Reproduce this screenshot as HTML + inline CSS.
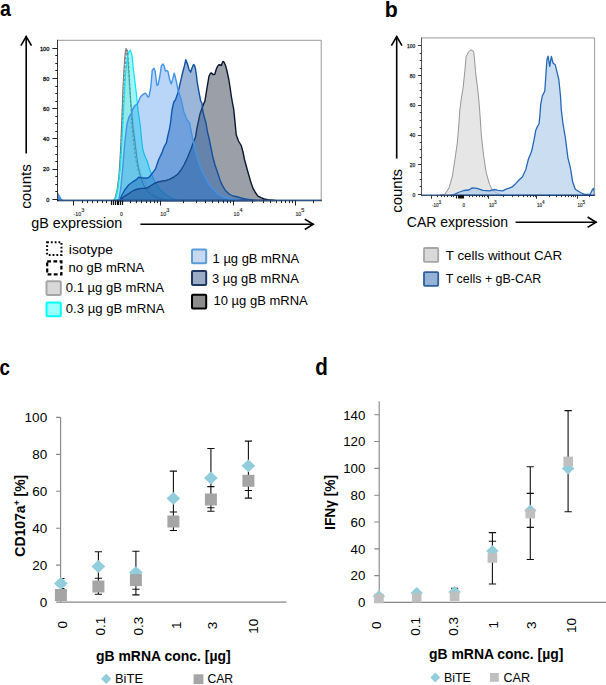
<!DOCTYPE html><html><head><meta charset="utf-8"><style>html,body{margin:0;padding:0;background:#fff;overflow:hidden}svg{display:block}</style></head><body>
<svg width="606" height="685" viewBox="0 0 606 685" font-family='"Liberation Sans", sans-serif'>
<rect width="606" height="685" fill="#fff"/>
<text x="0.0" y="16.2" font-size="22.5" font-weight="bold" textLength="10.9" lengthAdjust="spacingAndGlyphs" >a</text>
<text x="384.8" y="17.3" font-size="22.5" font-weight="bold" textLength="13.0" lengthAdjust="spacingAndGlyphs" >b</text>
<text x="-0.6" y="374.9" font-size="22.5" font-weight="bold" textLength="10.4" lengthAdjust="spacingAndGlyphs" >c</text>
<text x="315.2" y="374.6" font-size="23" font-weight="bold" textLength="12.6" lengthAdjust="spacingAndGlyphs" >d</text>
<path d="M26.2,153.6 L26.2,36" stroke="#000" stroke-width="1.6" fill="none"/>
<path d="M20.9,45.6 L26.2,36.6 L31.5,45.6" stroke="#000" stroke-width="1.6" fill="none"/>
<path d="M140.4,224.3 L313.8,224.3" stroke="#000" stroke-width="1.6" fill="none"/>
<path d="M304.8,219.10000000000002 L313.2,224.3 L304.8,229.5" stroke="#000" stroke-width="1.6" fill="none"/>
<path d="M396.7,158.6 L396.7,36" stroke="#000" stroke-width="1.6" fill="none"/>
<path d="M391.4,45.6 L396.7,36.6 L402.0,45.6" stroke="#000" stroke-width="1.6" fill="none"/>
<path d="M515.6,222.2 L596.6,222.2" stroke="#000" stroke-width="1.6" fill="none"/>
<path d="M587.6,217.0 L596.0,222.2 L587.6,227.39999999999998" stroke="#000" stroke-width="1.6" fill="none"/>
<text x="0" y="0" font-size="15.5" textLength="44.6" lengthAdjust="spacingAndGlyphs" transform="translate(31.3 208.7) rotate(-90)">counts</text>
<text x="0" y="0" font-size="15.5" textLength="43.8" lengthAdjust="spacingAndGlyphs" transform="translate(402.0 212.8) rotate(-90)">counts</text>
<text x="31.2" y="228.4" font-size="15" textLength="91.0" lengthAdjust="spacingAndGlyphs" >gB expression</text>
<text x="406.8" y="226.5" font-size="15" textLength="101.2" lengthAdjust="spacingAndGlyphs" >CAR expression</text>
<g stroke-linejoin="round">
<polygon points="113.0,200.5 115.0,198.0 117.0,190.0 119.0,175.0 120.5,150.0 121.5,125.0 122.3,105.0 122.8,90.0 123.6,75.0 124.4,62.0 125.3,52.0 126.1,48.4 127.0,50.0 128.0,60.0 129.0,75.0 130.0,90.0 131.5,110.0 133.0,128.0 134.7,140.0 136.5,155.0 138.5,168.0 141.0,178.0 144.0,186.0 148.0,192.0 153.0,196.0 160.0,198.5 168.0,200.0 175.0,200.5" fill="#c0c0c0" fill-opacity="0.3" stroke="#707070" stroke-width="0.9"/>
<polyline points="114.0,200.5 116.0,197.0 118.0,188.0 120.0,170.0 121.5,145.0 122.5,120.0 123.5,100.0 124.5,80.0 125.5,62.0 126.3,52.0 127.0,50.0 127.8,54.0 128.6,62.0 129.3,72.0 129.8,85.0 130.4,100.0 131.2,115.0 132.2,128.0 133.5,142.0 135.5,158.0 138.5,172.0 143.0,184.0 149.0,192.0 157.0,197.5 168.0,200.5" fill="none" stroke="#35505a" stroke-width="0.9" stroke-dasharray="2.5,1.8" stroke-opacity="0.7"/>
<polyline points="113.0,200.5 115.0,198.0 117.0,190.0 119.0,175.0 120.5,150.0 121.7,125.0 122.6,105.0 123.2,90.0 124.0,75.0 124.8,60.0 125.5,50.0 126.0,48.6 126.8,52.0 127.8,65.0 129.0,85.0 130.5,100.0 132.2,113.3 134.7,134.8 136.5,152.0 138.0,164.5 142.9,179.3 149.5,189.2 157.8,197.5 165.0,200.5" fill="none" stroke="#666" stroke-width="0.8" stroke-dasharray="0.8,0.9" stroke-opacity="0.7"/>
<polygon points="114.0,200.5 116.0,197.0 118.0,188.0 120.0,170.0 121.5,150.0 122.6,130.0 123.6,110.0 124.6,90.0 125.7,72.8 127.2,58.2 128.8,52.0 130.4,50.2 131.9,54.6 133.4,69.2 135.2,83.8 136.5,95.0 138.0,110.0 139.2,118.0 140.4,126.5 141.6,140.0 142.9,150.0 145.0,156.5 147.0,160.5 150.0,170.5 154.0,180.0 160.0,189.7 166.0,195.0 172.0,198.5 180.0,200.5" fill="#00e8e8" fill-opacity="0.38" stroke="#12e0f4" stroke-width="1.2"/>
<polygon points="118.0,200.5 121.5,199.0 124.0,196.5 128.0,194.2 131.0,192.0 134.7,190.0 138.0,189.0 141.3,188.4 144.5,188.3 147.9,187.6 151.0,185.5 154.5,183.4 158.0,182.0 162.7,181.0 166.0,180.5 169.3,179.3 173.0,177.5 177.6,174.4 181.0,170.0 184.2,164.5 187.5,157.5 190.8,149.6 193.5,142.0 195.7,136.4 196.6,130.0 198.3,122.0 199.9,114.2 202.4,107.0 204.9,101.0 207.0,88.0 209.0,76.2 210.3,73.5 211.5,72.9 213.0,74.5 214.8,74.2 216.0,70.0 217.2,67.1 218.5,65.0 219.7,64.7 221.4,65.5 222.2,63.0 223.0,61.4 224.0,62.0 225.5,65.5 227.0,71.0 228.8,79.5 230.0,87.0 231.3,96.0 232.5,103.0 233.7,109.2 235.0,122.0 236.2,134.8 238.5,141.0 241.2,145.5 243.0,152.0 244.5,159.5 246.5,167.0 248.6,174.4 250.5,181.0 252.7,187.6 255.0,192.0 257.7,195.8 261.0,197.7 264.3,199.0 268.0,199.8 275.0,200.5" fill="#353f51" fill-opacity="0.5" stroke="#0a1630" stroke-width="1.4"/>
<polygon points="116.0,200.5 119.9,199.6 122.0,195.0 124.9,189.7 128.8,184.8 132.8,181.8 136.7,179.3 138.7,177.3 141.7,177.8 146.6,178.3 149.6,176.8 152.6,172.9 155.5,168.9 158.5,160.0 161.9,152.9 164.0,147.0 166.4,142.8 168.0,135.0 169.3,129.8 170.5,123.0 172.0,110.0 173.8,102.0 175.4,100.0 177.9,93.0 180.4,82.2 182.9,71.5 184.5,65.7 185.8,59.7 187.5,64.0 189.0,69.5 190.6,72.2 192.0,68.0 193.5,64.4 194.5,65.5 195.5,68.9 196.4,75.0 197.2,82.1 198.8,91.2 200.7,101.0 201.9,103.2 203.0,112.0 204.5,118.0 206.0,123.0 207.5,132.0 209.3,139.5 211.0,148.0 212.6,156.0 215.0,165.0 217.6,172.5 220.0,180.0 222.5,185.7 225.5,190.5 229.1,194.0 233.0,196.0 239.0,197.3 245.0,199.0 255.0,200.5" fill="#2d67b0" fill-opacity="0.48" stroke="#11509f" stroke-width="1.4"/>
<polygon points="117.0,200.5 119.0,199.0 120.8,188.0 122.3,172.7 123.5,158.0 124.8,143.0 126.0,132.0 127.2,123.2 129.0,117.0 131.4,113.3 133.0,108.5 135.0,105.5 137.5,103.7 140.4,97.0 142.8,94.6 145.3,93.0 146.6,94.6 147.8,97.1 149.0,96.3 150.7,88.0 152.3,69.9 154.0,68.2 155.2,71.5 156.9,85.5 158.1,84.7 159.8,76.5 161.4,65.7 163.0,64.1 164.3,66.6 165.5,71.1 166.8,70.7 168.0,71.5 169.7,79.8 171.3,83.9 173.0,78.1 174.2,73.2 175.4,77.3 176.7,83.0 177.9,89.7 179.6,94.6 181.2,99.6 183.7,111.5 187.0,119.7 189.5,123.0 192.8,139.5 196.9,156.0 201.0,169.2 206.0,179.0 210.0,186.0 214.3,190.0 218.0,194.0 222.5,196.5 230.0,199.0 240.0,200.5" fill="#026de6" fill-opacity="0.28" stroke="#4193ea" stroke-width="1.4"/>
<polygon points="57.5,200.5 57.5,192.5 59.0,195.0 61.0,198.5 63.0,200.5" fill="#4a90e0" stroke="#3b82d6" stroke-width="0.8"/>
</g>
<path d="M57.5,40.3 L321.2,40.3 L321.2,200.5" fill="none" stroke="#9a9a9a" stroke-width="1"/>
<path d="M57.5,39.8 L57.5,200.5" stroke="#333" stroke-width="1"/>
<path d="M57.0,200.5 L321.7,200.5" stroke="#1a2233" stroke-width="1.4"/>
<path d="M58.5,200.2 L321.2,200.2" stroke="#3d7fd0" stroke-width="0.8"/>
<path d="M52.4,199.5 L57.5,199.5 M55.3,191.5 L57.5,191.5 M55.3,184.5 L57.5,184.5 M55.3,176.5 L57.5,176.5 M52.4,169.5 L57.5,169.5 M55.3,161.5 L57.5,161.5 M55.3,154.5 L57.5,154.5 M55.3,146.5 L57.5,146.5 M52.4,138.5 L57.5,138.5 M55.3,131.5 L57.5,131.5 M55.3,123.5 L57.5,123.5 M55.3,116.5 L57.5,116.5 M52.4,108.5 L57.5,108.5 M55.3,101.5 L57.5,101.5 M55.3,93.5 L57.5,93.5 M55.3,86.5 L57.5,86.5 M52.4,78.5 L57.5,78.5 M55.3,70.5 L57.5,70.5 M55.3,63.5 L57.5,63.5 M55.3,55.5 L57.5,55.5 M52.4,48.5 L57.5,48.5" stroke="#222" stroke-width="1"/>
<g font-size="6.2" fill="#111" text-anchor="end" stroke="#111" stroke-width="0.3">
<text x="49.3" y="201.6" textLength="3.1" lengthAdjust="spacingAndGlyphs">0</text>
<text x="49.3" y="171.4" textLength="6.2" lengthAdjust="spacingAndGlyphs">20</text>
<text x="49.3" y="141.2" textLength="6.2" lengthAdjust="spacingAndGlyphs">40</text>
<text x="49.3" y="111.0" textLength="6.2" lengthAdjust="spacingAndGlyphs">60</text>
<text x="49.3" y="80.8" textLength="6.2" lengthAdjust="spacingAndGlyphs">80</text>
<text x="49.3" y="50.6" textLength="9.4" lengthAdjust="spacingAndGlyphs">100</text>
</g>
<path d="M73.5,200.5 L73.5,205.5 M160.5,200.5 L160.5,205.5 M233.5,200.5 L233.5,205.5 M295.5,200.5 L295.5,205.5 M82.5,200.5 L82.5,203.1 M87.5,200.5 L87.5,203.1 M92.5,200.5 L92.5,203.1 M97.5,200.5 L97.5,203.1 M102.5,200.5 L102.5,203.1 M106.5,200.5 L106.5,203.1 M130.5,200.5 L130.5,203.1 M136.5,200.5 L136.5,203.1 M141.5,200.5 L141.5,203.1 M146.5,200.5 L146.5,203.1 M150.5,200.5 L150.5,203.1 M154.5,200.5 L154.5,203.1 M157.5,200.5 L157.5,203.1 M183.5,200.5 L183.5,203.1 M196.5,200.5 L196.5,203.1 M205.5,200.5 L205.5,203.1 M212.5,200.5 L212.5,203.1 M218.5,200.5 L218.5,203.1 M223.5,200.5 L223.5,203.1 M227.5,200.5 L227.5,203.1 M230.5,200.5 L230.5,203.1 M252.5,200.5 L252.5,203.1 M263.5,200.5 L263.5,203.1 M270.5,200.5 L270.5,203.1 M276.5,200.5 L276.5,203.1 M281.5,200.5 L281.5,203.1 M285.5,200.5 L285.5,203.1 M289.5,200.5 L289.5,203.1 M292.5,200.5 L292.5,203.1 M313.5,200.5 L313.5,203.1" stroke="#222" stroke-width="1.0"/>
<path d="M111.5,200.5 L111.5,205.0 M113.5,200.5 L113.5,205.0 M115.5,200.5 L115.5,205.0 M117.5,200.5 L117.5,205.0 M118.5,200.5 L118.5,205.0 M120.5,200.5 L120.5,205.0 M122.5,200.5 L122.5,205.0" stroke="#111" stroke-width="1.2"/>
<text x="73.6" y="216.1" font-size="5.3" fill="#222" stroke="#222" stroke-width="0.12">-10<tspan font-size="5.5" dy="-3.9">3</tspan></text>
<text x="119.9" y="216.1" font-size="5.3" fill="#222" stroke="#222" stroke-width="0.12">0</text>
<text x="160.3" y="216.1" font-size="5.3" fill="#222" stroke="#222" stroke-width="0.12">10<tspan font-size="5.5" dy="-3.9">3</tspan></text>
<text x="233.6" y="216.1" font-size="5.3" fill="#222" stroke="#222" stroke-width="0.12">10<tspan font-size="5.5" dy="-3.9">4</tspan></text>
<text x="295.4" y="216.1" font-size="5.3" fill="#222" stroke="#222" stroke-width="0.12">10<tspan font-size="5.5" dy="-3.9">5</tspan></text>
<rect x="47.1" y="242.2" width="14.4" height="12.7" rx="0" fill="none" stroke="#000" stroke-width="2.0" stroke-dasharray="1.8,2.0"/>
<rect x="47.2" y="261.4" width="14.2" height="13.0" rx="0" fill="none" stroke="#000" stroke-width="2.2" stroke-dasharray="3.8,2.4"/>
<rect x="46.5" y="281.2" width="14.3" height="13.7" rx="1.0" fill="#d9d9d9" stroke="#a6a6a6" stroke-width="2.0"/>
<rect x="46.5" y="302.6" width="14.3" height="13.6" rx="1.0" fill="#99ffff" stroke="#00ffff" stroke-width="2.0"/>
<rect x="192.0" y="249.5" width="14.2" height="13.8" rx="1.0" fill="#c6d9f1" stroke="#5b9bd5" stroke-width="2.0"/>
<rect x="192.0" y="271.0" width="14.2" height="14.0" rx="1.0" fill="#9badc5" stroke="#1f3864" stroke-width="2.0"/>
<rect x="192.0" y="294.8" width="14.2" height="13.6" rx="1.0" fill="#8c8c8c" stroke="#000" stroke-width="2.0"/>
<text x="68.8" y="253.6" font-size="13" textLength="44.2" lengthAdjust="spacingAndGlyphs" >isotype</text>
<text x="68.5" y="272.3" font-size="13" textLength="75.8" lengthAdjust="spacingAndGlyphs" >no gB mRNA</text>
<text x="65.8" y="292.3" font-size="13" textLength="98.2" lengthAdjust="spacingAndGlyphs" >0.1 µg gB mRNA</text>
<text x="65.8" y="313.1" font-size="13" textLength="98.6" lengthAdjust="spacingAndGlyphs" >0.3 µg gB mRNA</text>
<text x="212.6" y="263.0" font-size="13" textLength="86.6" lengthAdjust="spacingAndGlyphs" >1 µg gB mRNA</text>
<text x="212.0" y="282.6" font-size="13" textLength="86.8" lengthAdjust="spacingAndGlyphs" >3 µg gB mRNA</text>
<text x="213.5" y="305.3" font-size="13" textLength="94.2" lengthAdjust="spacingAndGlyphs" >10 µg gB mRNA</text>
<g stroke-linejoin="round">
<polygon points="440.0,195.3 445.0,194.2 449.1,187.6 452.4,176.0 454.9,159.5 457.3,143.0 458.8,125.0 459.8,110.0 461.1,100.0 463.1,87.8 464.8,71.3 466.1,56.4 467.2,54.8 468.5,52.0 470.0,50.3 471.4,50.1 472.8,50.5 473.8,52.3 474.6,60.0 475.5,71.3 476.5,80.0 477.6,87.8 478.8,100.0 479.6,109.2 481.3,134.8 483.7,156.2 486.2,172.7 489.5,184.3 492.8,190.9 499.4,194.2 506.0,195.3" fill="#e6e6e6" stroke="#8a8a8a" stroke-width="0.9"/>
<polygon points="450.0,195.3 453.2,195.0 458.2,192.5 463.9,190.5 468.9,190.0 472.2,187.9 477.1,188.4 482.9,190.4 489.5,190.9 494.5,189.5 497.8,190.4 502.7,190.9 506.0,189.2 511.8,187.2 515.9,183.4 519.0,180.0 522.5,176.8 525.8,169.4 528.3,159.5 531.6,151.3 534.1,139.7 535.7,130.6 537.4,126.5 539.0,124.0 539.8,116.6 540.7,104.3 542.3,96.0 544.8,91.0 545.6,79.5 546.9,59.7 548.1,56.1 549.7,66.3 551.4,56.4 553.0,63.0 555.2,64.7 557.2,72.9 558.8,79.5 560.5,96.0 561.3,110.0 562.9,123.2 565.4,138.0 567.9,157.9 570.4,167.8 572.8,182.6 575.3,189.2 580.3,192.5 585.2,194.5 590.2,194.2 592.6,189.2 593.8,188.4 594.6,195.3" fill="#a9c6e8" fill-opacity="0.6" stroke="#2468b8" stroke-width="1.3"/>
</g>
<path d="M421.5,37.9 L594.6,37.9 L594.6,195.3" fill="none" stroke="#9a9a9a" stroke-width="1"/>
<path d="M421.5,37.4 L421.5,195.3" stroke="#444" stroke-width="0.9"/>
<path d="M421.0,195.3 L594.6,195.3" stroke="#223" stroke-width="1"/>
<path d="M422.5,195.0 L593.6,195.0" stroke="#2468b8" stroke-width="0.7"/>
<path d="M417.9,194.5 L421.5,194.5 M419.6,186.5 L421.5,186.5 M419.6,179.5 L421.5,179.5 M419.6,172.5 L421.5,172.5 M417.9,164.5 L421.5,164.5 M419.6,157.5 L421.5,157.5 M419.6,149.5 L421.5,149.5 M419.6,142.5 L421.5,142.5 M417.9,135.5 L421.5,135.5 M419.6,127.5 L421.5,127.5 M419.6,120.5 L421.5,120.5 M419.6,112.5 L421.5,112.5 M417.9,105.5 L421.5,105.5 M419.6,97.5 L421.5,97.5 M419.6,90.5 L421.5,90.5 M419.6,83.5 L421.5,83.5 M417.9,75.5 L421.5,75.5 M419.6,68.5 L421.5,68.5 M419.6,60.5 L421.5,60.5 M419.6,53.5 L421.5,53.5 M417.9,45.5 L421.5,45.5" stroke="#222" stroke-width="0.9"/>
<g font-size="5.6" fill="#222" text-anchor="end" stroke="#222" stroke-width="0.25">
<text x="415.3" y="196.5" textLength="2.8" lengthAdjust="spacingAndGlyphs">0</text>
<text x="415.3" y="166.8" textLength="5.5" lengthAdjust="spacingAndGlyphs">20</text>
<text x="415.3" y="137.1" textLength="5.5" lengthAdjust="spacingAndGlyphs">40</text>
<text x="415.3" y="107.4" textLength="5.5" lengthAdjust="spacingAndGlyphs">60</text>
<text x="415.3" y="77.7" textLength="5.5" lengthAdjust="spacingAndGlyphs">80</text>
<text x="415.3" y="48.0" textLength="8.2" lengthAdjust="spacingAndGlyphs">100</text>
</g>
<path d="M431.5,195.3 L431.5,198.8 M488.5,195.3 L488.5,198.8 M536.5,195.3 L536.5,198.8 M577.5,195.3 L577.5,198.8 M437.5,195.3 L437.5,197.10000000000002 M441.5,195.3 L441.5,197.10000000000002 M444.5,195.3 L444.5,197.10000000000002 M447.5,195.3 L447.5,197.10000000000002 M451.5,195.3 L451.5,197.10000000000002 M453.5,195.3 L453.5,197.10000000000002 M469.5,195.3 L469.5,197.10000000000002 M472.5,195.3 L472.5,197.10000000000002 M476.5,195.3 L476.5,197.10000000000002 M479.5,195.3 L479.5,197.10000000000002 M482.5,195.3 L482.5,197.10000000000002 M484.5,195.3 L484.5,197.10000000000002 M487.5,195.3 L487.5,197.10000000000002 M503.5,195.3 L503.5,197.10000000000002 M512.5,195.3 L512.5,197.10000000000002 M518.5,195.3 L518.5,197.10000000000002 M523.5,195.3 L523.5,197.10000000000002 M527.5,195.3 L527.5,197.10000000000002 M530.5,195.3 L530.5,197.10000000000002 M533.5,195.3 L533.5,197.10000000000002 M535.5,195.3 L535.5,197.10000000000002 M549.5,195.3 L549.5,197.10000000000002 M556.5,195.3 L556.5,197.10000000000002 M561.5,195.3 L561.5,197.10000000000002 M565.5,195.3 L565.5,197.10000000000002 M568.5,195.3 L568.5,197.10000000000002 M571.5,195.3 L571.5,197.10000000000002 M573.5,195.3 L573.5,197.10000000000002 M575.5,195.3 L575.5,197.10000000000002 M589.5,195.3 L589.5,197.10000000000002" stroke="#222" stroke-width="0.9"/>
<path d="M456.5,195.3 L456.5,198.45000000000002 M458.5,195.3 L458.5,198.45000000000002 M459.5,195.3 L459.5,198.45000000000002 M460.5,195.3 L460.5,198.45000000000002 M461.5,195.3 L461.5,198.45000000000002 M462.5,195.3 L462.5,198.45000000000002 M463.5,195.3 L463.5,198.45000000000002" stroke="#111" stroke-width="1.08"/>
<text x="432.1" y="207.2" font-size="4.5" fill="#222" stroke="#222" stroke-width="0.12">-10<tspan font-size="4.6" dy="-3.3">3</tspan></text>
<text x="462.4" y="207.2" font-size="4.5" fill="#222" stroke="#222" stroke-width="0.12">0</text>
<text x="488.9" y="207.2" font-size="4.5" fill="#222" stroke="#222" stroke-width="0.12">10<tspan font-size="4.6" dy="-3.3">3</tspan></text>
<text x="537.0" y="207.2" font-size="4.5" fill="#222" stroke="#222" stroke-width="0.12">10<tspan font-size="4.6" dy="-3.3">4</tspan></text>
<text x="577.5" y="207.2" font-size="4.5" fill="#222" stroke="#222" stroke-width="0.12">10<tspan font-size="4.6" dy="-3.3">5</tspan></text>
<rect x="424.0" y="248.0" width="14.2" height="13.9" rx="1.0" fill="#d9d9d9" stroke="#a6a6a6" stroke-width="1.8"/>
<rect x="424.0" y="272.1" width="14.2" height="13.7" rx="1.0" fill="#95b3d7" stroke="#2f5f98" stroke-width="1.8"/>
<text x="445.8" y="260.3" font-size="13" textLength="116.4" lengthAdjust="spacingAndGlyphs" >T cells without CAR</text>
<text x="445.8" y="283.1" font-size="13" textLength="95.4" lengthAdjust="spacingAndGlyphs" >T cells + gB-CAR</text>
<g stroke="#888" stroke-width="1.15" fill="none">
<path d="M60.6,417.3 L60.6,602.1 M56.1,602.1 L286.4,602.1"/>
<path d="M56.1,565.1 L60.6,565.1 M56.1,528.2 L60.6,528.2 M56.1,491.2 L60.6,491.2 M56.1,454.3 L60.6,454.3 M56.1,417.3 L60.6,417.3"/>
</g>
<text x="47.2" y="606.9" font-size="13.5" textLength="7.5" lengthAdjust="spacingAndGlyphs" text-anchor="end" >0</text>
<text x="47.2" y="569.9" font-size="13.5" textLength="15.0" lengthAdjust="spacingAndGlyphs" text-anchor="end" >20</text>
<text x="47.2" y="533.0" font-size="13.5" textLength="15.0" lengthAdjust="spacingAndGlyphs" text-anchor="end" >40</text>
<text x="47.2" y="496.0" font-size="13.5" textLength="15.0" lengthAdjust="spacingAndGlyphs" text-anchor="end" >60</text>
<text x="47.2" y="459.1" font-size="13.5" textLength="15.0" lengthAdjust="spacingAndGlyphs" text-anchor="end" >80</text>
<text x="47.2" y="422.1" font-size="13.5" textLength="22.6" lengthAdjust="spacingAndGlyphs" text-anchor="end" >100</text>
<text x="0" y="0" font-size="13.5" text-anchor="middle" transform="translate(66.9 624.8) rotate(-90)">0</text>
<text x="0" y="0" font-size="13.5" text-anchor="middle" transform="translate(105.3 626.0) rotate(-90)">0.1</text>
<text x="0" y="0" font-size="13.5" text-anchor="middle" transform="translate(142.5 626.0) rotate(-90)">0.3</text>
<text x="0" y="0" font-size="13.5" text-anchor="middle" transform="translate(181.0 625.2) rotate(-90)">1</text>
<text x="0" y="0" font-size="13.5" text-anchor="middle" transform="translate(216.6 625.6) rotate(-90)">3</text>
<text x="0" y="0" font-size="13.5" text-anchor="middle" transform="translate(257.9 626.2) rotate(-90)">10</text>
<text x="0" y="0" font-size="14.8" font-weight="bold" textLength="82" lengthAdjust="spacingAndGlyphs" transform="translate(25.4 556.7) rotate(-90)">CD107a<tspan font-size="9" dy="-5.5">+</tspan><tspan dy="5.5"> [%]</tspan></text>
<text x="96.0" y="661.0" font-size="14.6" font-weight="bold" textLength="134.6" lengthAdjust="spacingAndGlyphs" >gB mRNA conc. [µg]</text>
<path d="M60.9,578.5 L64.5,578.5 M60.9,588.6 L64.5,588.6" stroke="#111" stroke-width="1.1"/>
<path d="M98.4,551.7 L98.4,594.3 M94.8,551.7 L102.0,551.7 M94.8,578.3 L102.0,578.3 M94.8,594.3 L102.0,594.3" stroke="#111" stroke-width="1.1" fill="none"/>
<path d="M135.9,551.3 L135.9,594.9 M132.3,551.3 L139.5,551.3 M132.3,589.3 L139.5,589.3 M132.3,594.9 L139.5,594.9" stroke="#111" stroke-width="1.1" fill="none"/>
<path d="M173.4,471.1 L173.4,530.5 M169.8,471.1 L177.0,471.1 M169.8,512.0 L177.0,512.0 M169.8,530.5 L177.0,530.5" stroke="#111" stroke-width="1.1" fill="none"/>
<path d="M210.9,448.5 L210.9,511.3 M207.3,448.5 L214.5,448.5 M207.3,486.6 L214.5,486.6 M207.3,507.8 L214.5,507.8 M207.3,511.3 L214.5,511.3" stroke="#111" stroke-width="1.1" fill="none"/>
<path d="M248.4,441.1 L248.4,498.1 M244.8,441.1 L252.0,441.1 M244.8,490.5 L252.0,490.5 M244.8,498.1 L252.0,498.1" stroke="#111" stroke-width="1.1" fill="none"/>
<polygon points="60.9,577.0 67.8,583.4 60.9,589.8 54.0,583.4" fill="#92cddc"/>
<polygon points="98.4,560.1 105.3,566.5 98.4,572.9 91.5,566.5" fill="#92cddc"/>
<polygon points="135.9,566.2 142.8,572.6 135.9,579.0 129.0,572.6" fill="#92cddc"/>
<polygon points="173.4,492.0 180.3,498.4 173.4,504.8 166.5,498.4" fill="#92cddc"/>
<polygon points="210.9,471.6 217.8,478.0 210.9,484.4 204.0,478.0" fill="#92cddc"/>
<polygon points="248.4,459.4 255.3,465.8 248.4,472.2 241.5,465.8" fill="#92cddc"/>
<rect x="54.9" y="589.0" width="12.0" height="12.0" fill="#a5a5a5"/>
<rect x="92.4" y="580.5" width="12.0" height="12.0" fill="#a5a5a5"/>
<rect x="129.9" y="574.1" width="12.0" height="12.0" fill="#a5a5a5"/>
<rect x="167.4" y="515.5" width="12.0" height="12.0" fill="#a5a5a5"/>
<rect x="204.9" y="493.5" width="12.0" height="12.0" fill="#a5a5a5"/>
<rect x="242.4" y="474.8" width="12.0" height="12.0" fill="#a5a5a5"/>
<polygon points="106.2,673.7 111.3,678.8 106.2,683.9 101.1,678.8" fill="#92cddc"/>
<text x="115.0" y="682.8" font-size="13" textLength="28.0" lengthAdjust="spacingAndGlyphs" >BiTE</text>
<rect x="193.6" y="674.3" width="9.8" height="9.8" fill="#a5a5a5"/>
<text x="207.4" y="682.8" font-size="13" textLength="25.8" lengthAdjust="spacingAndGlyphs" >CAR</text>
<g stroke="#888" stroke-width="1.15" fill="none">
<path d="M379.2,401.2 L379.2,602.4 M374.3,602.4 L606,602.4"/>
<path d="M374.3,575.6 L379.2,575.6 M374.3,548.8 L379.2,548.8 M374.3,522.0 L379.2,522.0 M374.3,495.2 L379.2,495.2 M374.3,468.3 L379.2,468.3 M374.3,441.5 L379.2,441.5 M374.3,414.7 L379.2,414.7"/>
</g>
<text x="365.4" y="607.2" font-size="13.5" textLength="7.4" lengthAdjust="spacingAndGlyphs" text-anchor="end" >0</text>
<text x="365.4" y="580.4" font-size="13.5" textLength="14.8" lengthAdjust="spacingAndGlyphs" text-anchor="end" >20</text>
<text x="365.4" y="553.6" font-size="13.5" textLength="14.8" lengthAdjust="spacingAndGlyphs" text-anchor="end" >40</text>
<text x="365.4" y="526.8" font-size="13.5" textLength="14.8" lengthAdjust="spacingAndGlyphs" text-anchor="end" >60</text>
<text x="365.4" y="500.0" font-size="13.5" textLength="14.8" lengthAdjust="spacingAndGlyphs" text-anchor="end" >80</text>
<text x="365.4" y="473.1" font-size="13.5" textLength="22.2" lengthAdjust="spacingAndGlyphs" text-anchor="end" >100</text>
<text x="365.4" y="446.3" font-size="13.5" textLength="22.2" lengthAdjust="spacingAndGlyphs" text-anchor="end" >120</text>
<text x="365.4" y="419.5" font-size="13.5" textLength="22.2" lengthAdjust="spacingAndGlyphs" text-anchor="end" >140</text>
<text x="0" y="0" font-size="13.5" text-anchor="middle" transform="translate(381.2 625.3) rotate(-90)">0</text>
<text x="0" y="0" font-size="13.5" text-anchor="middle" transform="translate(420.1 626.3) rotate(-90)">0.1</text>
<text x="0" y="0" font-size="13.5" text-anchor="middle" transform="translate(457.5 626.3) rotate(-90)">0.3</text>
<text x="0" y="0" font-size="13.5" text-anchor="middle" transform="translate(498.1 624.7) rotate(-90)">1</text>
<text x="0" y="0" font-size="13.5" text-anchor="middle" transform="translate(535.7 625.2) rotate(-90)">3</text>
<text x="0" y="0" font-size="13.5" text-anchor="middle" transform="translate(575.6 625.5) rotate(-90)">10</text>
<text x="0" y="0" font-size="14.8" font-weight="bold" textLength="55" lengthAdjust="spacingAndGlyphs" transform="translate(334.5 529.9) rotate(-90)">IFNγ [%]</text>
<text x="429.0" y="658.6" font-size="14.6" font-weight="bold" textLength="134.4" lengthAdjust="spacingAndGlyphs" >gB mRNA conc. [µg]</text>
<path d="M454.6,588.3 L454.6,588.3 M451.0,588.3 L458.2,588.3" stroke="#111" stroke-width="1.1" fill="none"/>
<path d="M492.4,532.6 L492.4,584.0 M488.8,532.6 L496.1,532.6 M488.8,541.3 L496.1,541.3 M488.8,584.0 L496.1,584.0" stroke="#111" stroke-width="1.1" fill="none"/>
<path d="M530.3,466.8 L530.3,559.5 M526.7,466.8 L533.9,466.8 M526.7,493.4 L533.9,493.4 M526.7,527.4 L533.9,527.4 M526.7,559.5 L533.9,559.5" stroke="#111" stroke-width="1.1" fill="none"/>
<path d="M568.1,410.6 L568.1,511.7 M564.5,410.6 L571.8,410.6 M564.5,511.7 L571.8,511.7" stroke="#111" stroke-width="1.1" fill="none"/>
<polygon points="378.9,590.3 385.1,596.2 378.9,602.1 372.7,596.2" fill="#92cddc"/>
<polygon points="416.8,587.1 422.9,593.0 416.8,598.9 410.6,593.0" fill="#92cddc"/>
<polygon points="454.6,586.1 460.8,592.0 454.6,597.9 448.4,592.0" fill="#92cddc"/>
<polygon points="492.4,545.0 498.6,550.9 492.4,556.8 486.2,550.9" fill="#92cddc"/>
<polygon points="530.3,504.6 536.5,510.5 530.3,516.4 524.1,510.5" fill="#92cddc"/>
<polygon points="568.1,462.6 574.4,468.5 568.1,474.4 561.9,468.5" fill="#92cddc"/>
<rect x="374.1" y="593.7" width="9.6" height="9.6" fill="#bfbfbf"/>
<rect x="411.9" y="593.0" width="9.6" height="9.6" fill="#bfbfbf"/>
<rect x="449.8" y="591.4" width="9.6" height="9.6" fill="#bfbfbf"/>
<rect x="487.6" y="553.2" width="9.6" height="9.6" fill="#bfbfbf"/>
<rect x="525.5" y="508.8" width="9.6" height="9.6" fill="#bfbfbf"/>
<rect x="563.4" y="456.6" width="9.6" height="9.6" fill="#bfbfbf"/>
<polygon points="435.3,672.6 440.2,677.5 435.3,682.4 430.4,677.5" fill="#92cddc"/>
<text x="444.0" y="681.8" font-size="13" textLength="26.8" lengthAdjust="spacingAndGlyphs" >BiTE</text>
<rect x="490.0" y="673.0" width="8.8" height="8.8" fill="#bfbfbf"/>
<text x="503.4" y="681.8" font-size="13" textLength="26.6" lengthAdjust="spacingAndGlyphs" >CAR</text>
</svg></body></html>
